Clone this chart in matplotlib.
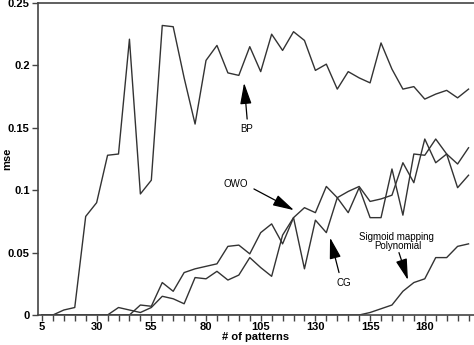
import numpy as np
import matplotlib.pyplot as plt
from matplotlib.ticker import FixedLocator, MultipleLocator

plt.rcParams['font.family'] = ['Liberation Sans', 'DejaVu Sans']

# number of patterns (x axis)
patterns = list(range(5, 205, 5))

# mse for each training method
bp = [0, 0, 0.004, 0.006, 0.079, 0.090, 0.128, 0.129, 0.221, 0.097,
      0.108, 0.232, 0.231, 0.190, 0.153, 0.204, 0.216, 0.194, 0.192, 0.215,
      0.195, 0.225, 0.212, 0.227, 0.220, 0.196, 0.201, 0.181, 0.195, 0.190,
      0.186, 0.218, 0.197, 0.181, 0.183, 0.173, 0.177, 0.180, 0.174, 0.181]
owo = [0, 0, 0, 0, 0, 0, 0, 0, 0, 0.008,
       0.007, 0.026, 0.019, 0.034, 0.037, 0.039, 0.041, 0.055, 0.056, 0.049,
       0.066, 0.073, 0.057, 0.078, 0.086, 0.082, 0.103, 0.094, 0.099, 0.103,
       0.091, 0.093, 0.096, 0.122, 0.106, 0.141, 0.122, 0.129, 0.121, 0.134]
cg = [0, 0, 0, 0, 0, 0, 0, 0.006, 0.004, 0.002,
      0.006, 0.015, 0.013, 0.009, 0.030, 0.029, 0.035, 0.028, 0.032, 0.046,
      0.038, 0.031, 0.064, 0.078, 0.037, 0.076, 0.066, 0.094, 0.082, 0.102,
      0.078, 0.078, 0.117, 0.080, 0.129, 0.128, 0.141, 0.129, 0.102, 0.112]
sigmoid = [0, 0, 0, 0, 0, 0, 0, 0, 0, 0,
           0, 0, 0, 0, 0, 0, 0, 0, 0, 0,
           0, 0, 0, 0, 0, 0, 0, 0, 0, 0,
           0.002, 0.005, 0.008, 0.019, 0.026, 0.029, 0.046, 0.046, 0.055, 0.057]

xticks = [5, 30, 55, 80, 105, 130, 155, 180]
yticks = [0, 0.05, 0.1, 0.15, 0.2, 0.25]
ytick_labels = ['0', '0.05', '0.1', '0.15', '0.2', '0.25']

fig = plt.figure(figsize=(4.74, 3.45), dpi=100)
ax = fig.add_axes([38 / 474, 30 / 345, 436 / 474, 312 / 345])

line_col = '#333333'
for series in (bp, owo, cg, sigmoid):
    ax.plot(patterns, series, color=line_col, lw=1.0)

ax.set_xlim(3.2, 202.5)
ax.set_ylim(0, 0.25)
ax.xaxis.set_major_locator(FixedLocator(xticks))
ax.xaxis.set_minor_locator(MultipleLocator(5))
ax.set_yticks(yticks)
ax.set_yticklabels(ytick_labels)
ax.tick_params(axis='both', which='both', direction='out', length=4,
               width=1.0, color='#444444', labelsize=8, pad=2)
ax.tick_params(axis='x', pad=1)
for lab in ax.get_xticklabels() + ax.get_yticklabels():
    lab.set_fontweight('bold')

for side in ('left', 'bottom', 'top'):
    ax.spines[side].set_color('#444444')
    ax.spines[side].set_linewidth(1.2)
ax.spines['right'].set_visible(False)

ax.set_xlabel('# of patterns', fontsize=8, fontweight='bold', labelpad=0)
ax.set_ylabel('mse', fontsize=8, fontweight='bold')
ax.yaxis.set_label_coords(-0.06, 0.5)

arrow = dict(arrowstyle='-|>,head_length=1.3,head_width=0.35', color='black',
             lw=0.9, mutation_scale=10, shrinkA=0, shrinkB=0)

ax.annotate('', xy=(97.4, 0.186), xytext=(98.8, 0.157), arrowprops=arrow)
ax.text(98.7, 0.149, 'BP', fontsize=7, ha='center', va='center')

ax.annotate('', xy=(120.2, 0.084), xytext=(101.9, 0.101), arrowprops=arrow)
ax.text(93.5, 0.105, 'OWO', fontsize=7, ha='center', va='center')

ax.annotate('', xy=(136.7, 0.062), xytext=(140.8, 0.034), arrowprops=arrow)
ax.text(143, 0.026, 'CG', fontsize=7, ha='center', va='center')

ax.annotate('', xy=(172.3, 0.028), xytext=(168.2, 0.050), arrowprops=arrow)
ax.text(167, 0.0625, 'Sigmoid mapping', fontsize=7, ha='center', va='center')
ax.text(167.8, 0.055, 'Polynomial', fontsize=7, ha='center', va='center')

fig.savefig('out.png', dpi=100)
